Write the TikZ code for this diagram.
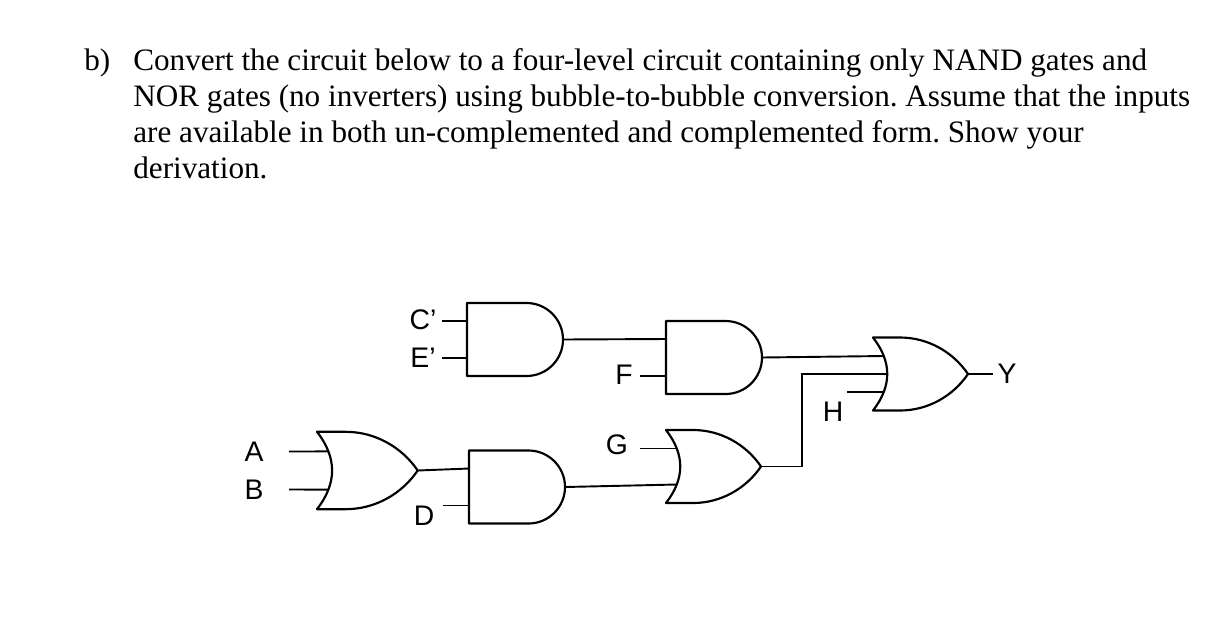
\documentclass[tikz,border=0pt]{standalone}
\usepackage{fontspec}
\setmainfont{Liberation Serif}
\newfontfamily\pinfont{Liberation Sans}
\tikzset{
    gateline/.style={line width=1.3pt,line join=round},
    wire/.style={line width=1.15pt},
    pin/.style={font=\pinfont\fontsize{17}{17}\selectfont,inner sep=0pt},
    para/.style={font=\fontsize{18.7}{21.6}\selectfont,inner sep=0pt,anchor=north west,align=left},
    andshape/.pic={
        \draw[gateline](0,-36.5)--(59.5,-36.5)arc[start angle=-90,end angle=90,x radius=36.5,y radius=36.5]--(0,36.5)--cycle;
        \coordinate(-top)at(0,-18.5);
        \coordinate(-bot)at(0,18.5);
        \coordinate(-out)at(96,0);
    },
    orshape/.pic={
        \draw[gateline](0,-36.5)--(27,-36.5)..controls(55,-36.5)and(80,-22)..(95,0)
            ..controls(80,22)and(55,36.5)..(27,36.5)--(0,36.5)
            ..controls(19,12)and(19,-12)..(0,-36.5)--cycle;
        \coordinate(-top)at(11,-18);
        \coordinate(-mid)at(14,0);
        \coordinate(-bot)at(11,18);
        \coordinate(-out)at(95,0);
    }
}
\begin{document}
\begin{tikzpicture}[x=0.6pt,y=-0.6pt]
    \useasboundingbox(0,0)rectangle(1230,632);
    \frenchspacing
    \node[para](qlabel)at(84,49){b)};
    \node[para](qtext)at(133,48){Convert the circuit below to a four-level circuit containing only NAND gates and\\
        NOR gates (no inverters) using bubble-to-bubble conversion. Assume that the inputs\\
        are available in both un-complemented and complemented form. Show your\\
        derivation.};
    % gates
    \pic(andce)at(467,339.5){andshape};
    \pic(andd)at(469,487){andshape};
    \pic(andf)at(666,357.5){andshape};
    \pic[scale=1.06](orab)at(317,470.5){orshape};
    \pic(org)at(666,466.5){orshape};
    \pic(ory)at(873,374){orshape};
    % free ends of the inputs
    \coordinate(stubc)at(442,321);
    \coordinate(stube)at(442,358);
    \coordinate(stuba)at(289,451.5);
    \coordinate(stubb)at(289,489.5);
    \coordinate(stubd)at(443,505.5);
    \coordinate(stubf)at(640,376);
    \coordinate(stubg)at(640,448.5);
    \coordinate(stubh)at(847,392);
    \coordinate(stuby)at(993,374);
    \coordinate(bend)at(802,466.5);
    % wires
    \draw[wire](stubc)--(andce-top);
    \draw[wire](stube)--(andce-bot);
    \draw[wire](stuba)--(orab-top);
    \draw[wire](stubb)--(orab-bot);
    \draw[wire](orab-out)--(andd-top);
    \draw[wire](stubd)--(andd-bot);
    \draw[wire](andce-out)--(andf-top);
    \draw[wire](stubf)--(andf-bot);
    \draw[wire](stubg)--(org-top);
    \draw[wire](andd-out)--(org-bot);
    \draw[wire](andf-out)--(ory-top);
    \draw[wire](org-out)--(bend)|-(ory-mid);
    \draw[wire](stubh)--(ory-bot);
    \draw[wire](ory-out)--(stuby);
    % labels
    \node[pin](pina)at(254,452){A};
    \node[pin](pinb)at(254,490){B};
    \node[pin](pinc)at(423,320){C’};
    \node[pin](pine)at(423,358){E’};
    \node[pin](pind)at(424,516){D};
    \node[pin](pinf)at(624,375){F};
    \node[pin](ping)at(617,445){G};
    \node[pin](pinh)at(833,412){H};
    \node[pin](piny)at(1007,374){Y};
\end{tikzpicture}
\end{document}
